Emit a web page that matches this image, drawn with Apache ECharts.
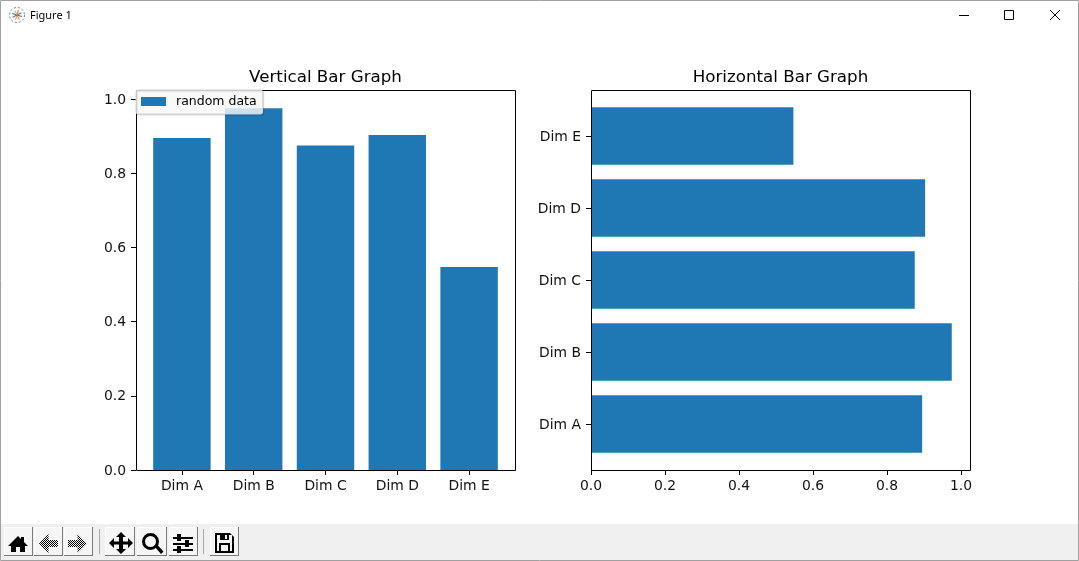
<!DOCTYPE html>
<html><head><meta charset="utf-8">
<style>html,body{margin:0;padding:0;background:#fff}#c{width:1079px;height:561px}</style>
<script src="https://cdn.jsdelivr.net/npm/echarts@6/dist/echarts.min.js"></script>
</head><body><div id="c"></div>
<script>
const categories = ['Dim A','Dim B','Dim C','Dim D','Dim E'];
const values = [0.895,0.975,0.875,0.903,0.547];
const valueTicks = [0,0.2,0.4,0.6,0.8,1.0];
const seriesName = 'random data';
const blue = '#1f77b4';
const font = '"DejaVu Sans"';
const chart = echarts.init(document.getElementById('c'),null,{renderer:'canvas'});

const tick = {show:true,length:5,lineStyle:{color:'#000',width:1}};
const labelBase = {show:true,color:'#111',fontFamily:font,fontSize:13.9};
const catAxis = (extra,lab)=>Object.assign({
  type:'category', data:categories, boundaryGap:true, splitLine:{show:false},
  axisLine:{show:false},
  axisTick:Object.assign({alignWithLabel:true},tick),
  axisLabel:Object.assign({margin:10,interval:0},labelBase,lab)
},extra);
const valAxis = (extra,lab)=>Object.assign({
  type:'value', min:0, max:1.0243, splitLine:{show:false},
  axisLine:{show:false},
  axisTick:Object.assign({customValues:valueTicks},tick),
  axisLabel:Object.assign({margin:10,customValues:valueTicks,formatter:v=>v.toFixed(1)},labelBase,lab)
},extra);

// window chrome
const checker=(()=>{const c=document.createElement('canvas');c.width=c.height=2;const x=c.getContext('2d');
  x.fillStyle='#000';x.fillRect(0,0,1,1);x.fillRect(1,1,1,1);x.fillStyle='#f0f0f0';x.fillRect(1,0,1,1);x.fillRect(0,1,1,1);return c;})();
const pattern={image:checker,repeat:'repeat'};
const line=(a,b,c,d,col,w)=>({type:'line',shape:{x1:a,y1:b,x2:c,y2:d},style:{stroke:col||'#000',lineWidth:w||1},z:11});
const box=(x,y,w,h,fill,z)=>({type:'rect',shape:{x,y,width:w,height:h},style:{fill:fill||'#000'},z:z||11});
const poly=(pts,dx,dy,fill)=>({type:'polygon',shape:{points:pts.map(p=>[p[0]+dx,p[1]+dy])},style:{fill:fill||'#000'},z:11});
const btn=(x,w)=>[
  box(x,527,w,28,'#f6f6f6',10),
  {type:'line',shape:{x1:x+.5,y1:527,x2:x+.5,y2:555},style:{stroke:'#fff',lineWidth:1},z:10},
  {type:'line',shape:{x1:x,y1:527.5,x2:x+w,y2:527.5},style:{stroke:'#fff',lineWidth:1},z:10},
  {type:'line',shape:{x1:x,y1:555.5,x2:x+w+.5,y2:555.5},style:{stroke:'#7a7a7a',lineWidth:1},z:10},
  {type:'line',shape:{x1:x+w+.5,y1:527,x2:x+w+.5,y2:556},style:{stroke:'#7a7a7a',lineWidth:1},z:10}
];
const home=[[10,0],[13,3],[13,1],[16,1],[16,6],[20,10],[17,10],[17,16],[12,16],[12,11],[8,11],[8,16],[3,16],[3,10],[0,10]];
const left=[[9.5,0],[9.5,6],[19,6],[19,13],[9.5,13],[9.5,19],[0,9.5]];
const right=[[9.5,0],[19,9.5],[9.5,19],[9.5,13],[0,13],[0,6],[9.5,6]];
const move=[[12,0],[17,5],[14,5],[14,9.5],[19,9.5],[19,6],[24,11],[19,16],[19,12.5],[14,12.5],[14,17],[17,17],[12,22],[7,17],[10,17],[10,12.5],[5,12.5],[5,16],[0,11],[5,6],[5,9.5],[10,9.5],[10,5],[7,5]];
const logoColors=['#1f77b4','#ff7f0e','#d8b08a','#777','#1f77b4','#bbb','#ff7f0e','#777'];
const logo=logoColors.map((c,i)=>{const a=i*Math.PI/4+.3;return line(17,15,17+5*Math.cos(a),15+5*Math.sin(a),c,1.2)});

chart.setOption({
  animation:false,
  backgroundColor:'#fff',
  textStyle:{fontFamily:font},
  title:[
    {text:'Vertical Bar Graph',left:325.5,top:69,textAlign:'center',padding:0,textStyle:{fontFamily:font,fontSize:16.7,fontWeight:'normal',color:'#000'}},
    {text:'Horizontal Bar Graph',left:780.5,top:69,textAlign:'center',padding:0,textStyle:{fontFamily:font,fontSize:16.7,fontWeight:'normal',color:'#000'}}
  ],
  legend:{data:[seriesName],left:136,top:90,orient:'horizontal',padding:[5,6,6,5],
    itemWidth:25,itemHeight:9,itemGap:0,icon:'rect',
    backgroundColor:'rgba(255,255,255,0.8)',borderColor:'#d4d4d4',borderWidth:1,borderRadius:2,
    shadowColor:'rgba(0,0,0,0.15)',shadowBlur:1,shadowOffsetX:1,shadowOffsetY:1,
    textStyle:{color:'#000',fontFamily:font,fontSize:12.5,padding:[0,0,0,5]},
    selectedMode:false,z:20},
  grid:[
    {left:146,top:90,width:359,height:380},
    {left:591,top:100,width:379,height:360}
  ],
  xAxis:[
    catAxis({gridIndex:0},{margin:9}),
    valAxis({gridIndex:1,offset:10},{margin:9})
  ],
  yAxis:[
    valAxis({gridIndex:0,offset:10},{verticalAlign:'top',lineHeight:2}),
    catAxis({gridIndex:1},{verticalAlign:'top',lineHeight:3})
  ],
  series:[
    {name:seriesName,type:'bar',xAxisIndex:0,yAxisIndex:0,barWidth:'80%',itemStyle:{color:blue},data:values},
    {name:'horizontal',type:'bar',xAxisIndex:1,yAxisIndex:1,barWidth:'80%',itemStyle:{color:blue},data:values}
  ],
  graphic:[
    {type:'rect',shape:{x:136.5,y:90.5,width:379,height:380},style:{fill:'none',stroke:'#000',lineWidth:1},z:5},
    {type:'rect',shape:{x:591.5,y:90.5,width:379,height:380},style:{fill:'none',stroke:'#000',lineWidth:1},z:5},
    box(1,524,1077,36,'#f0f0f0',9),
    {type:'rect',shape:{x:.5,y:.5,width:1078,height:560},style:{fill:'none',stroke:'#a0a0a0',lineWidth:1},z:12},
    {type:'text',style:{x:30,y:10,text:'Figure 1',fill:'#000',font:'11px "Noto Sans"'},z:11},
    {type:'circle',shape:{cx:17,cy:15,r:7.5},style:{fill:'#fff',stroke:'#5a7f9f',lineWidth:1,lineDash:[2,2]},z:10},
    ...logo,
    line(959,15.5,969,15.5,'#000',1),
    {type:'rect',shape:{x:1004.5,y:10.5,width:9,height:9},style:{fill:'none',stroke:'#000',lineWidth:1},z:11},
    line(1050,10,1060,20,'#000',1), line(1060,10,1050,20,'#000',1),
    ...btn(4,28),...btn(34,28),...btn(64,28),...btn(105,29),...btn(137,29),...btn(169,28),...btn(210,28),
    line(99.5,529,99.5,554,'#aaa'),line(203.5,529,203.5,554,'#aaa'),
    poly(home,8,536),
    poly(left,39,534,pattern),
    poly(right,68,534,pattern),
    poly(move,109,532),
    {type:'ring',shape:{cx:150.5,cy:541.5,r:8.5,r0:5.5},style:{fill:'#000'},z:11},
    poly([[155,547],[157.5,545],[163.5,551.5],[161,554]],0,0),
    box(173,537,20,2),box(177,534,4,7),
    box(173,543,20,2),box(185,540,4,7),
    box(173,549,20,2),box(177,546,4,7),
    poly([[0,0],[15,0],[19,4],[19,20],[0,20]],215,533),
    box(217,535,15,16,'#f6f6f6',12),
    box(220,534,9,6,'#000',13), box(225,535,2,4,'#f6f6f6',14),
    box(219,543,11,8,'#000',13), box(221,545,7,6,'#f6f6f6',14)
  ]
});
</script></body></html>
